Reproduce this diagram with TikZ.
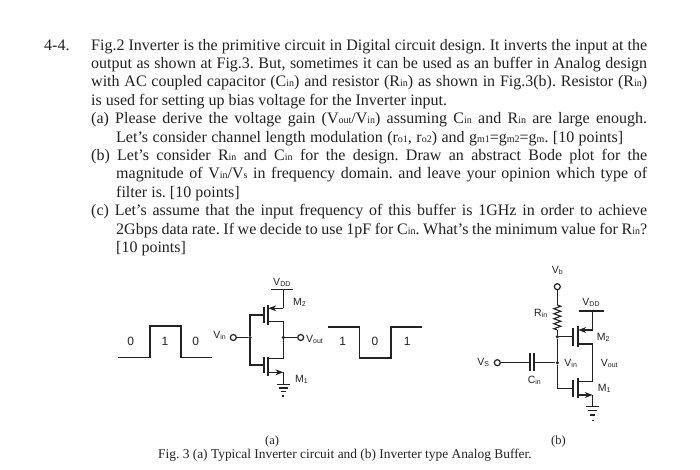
\documentclass[tikz,border=0pt]{standalone}
\usepackage{fontspec}
\setmainfont{Liberation Serif}
\setsansfont{Liberation Sans}
\usetikzlibrary{arrows.meta}
\usetikzlibrary{decorations.pathmorphing}

\definecolor{ink}{HTML}{222222}
\newcommand{\sbs}[1]{{\fontsize{10}{10}\selectfont #1}}
\newcommand{\fitline}[2]{\makebox[#1pt][s]{#2}}
\newcommand{\ckt}[2]{{\sffamily\fontsize{10.5}{10.5}\selectfont #1\raisebox{-1pt}{\fontsize{7}{7}\selectfont #2}}}

\tikzset{
	textline/.style={anchor=base west, inner sep=0pt, text=ink, font=\fontsize{16}{18}\selectfont},
	wire/.style={draw=ink, line width=1.1pt},
	pulse/.style={draw=ink, line width=1.6pt},
	plate/.style={draw=ink, line width=1.8pt},
	term/.style={circle, draw=ink, line width=1.2pt, fill=white, inner sep=0pt, minimum size=6pt},
	junc/.style={circle, fill=ink, inner sep=0pt, minimum size=3.5pt},
	lbl/.style={inner sep=0pt, text=ink},
	bit/.style={inner sep=0pt, text=ink, font=\sffamily\fontsize{12}{12}\selectfont}
}

\begin{document}
\frenchspacing
\begin{tikzpicture}[x=1pt,y=-1pt,>=Stealth]
	\fill[white] (0,0) rectangle (700,469);
	\useasboundingbox (0,0) rectangle (700,469);

	% question text
	\node[textline] (num) at (44,50) {4-4.};
	\node[textline] (l1) at (91,50) {\fitline{556}{Fig.2 Inverter is the primitive circuit in Digital circuit design. It inverts the input at the}};
	\node[textline] (l2) at (91,68.4) {\fitline{556}{output as shown at Fig.3. But, sometimes it can be used as an buffer in Analog design}};
	\node[textline] (l3) at (91,86.8) {\fitline{556}{with AC coupled capacitor (C\sbs{in}) and resistor (R\sbs{in}) as shown in Fig.3(b). Resistor (R\sbs{in})}};
	\node[textline] (l4) at (91,105.2) {is used for setting up bias voltage for the Inverter input.};
	\node[textline] (l5) at (91,123.6) {\fitline{556}{(a) Please derive the voltage gain (V\sbs{out}/V\sbs{in}) assuming C\sbs{in} and R\sbs{in} are large enough.}};
	\node[textline] (l6) at (116,142) {\fitline{507}{Let’s consider channel length modulation (r\sbs{o1}, r\sbs{o2}) and g\sbs{m1}=g\sbs{m2}=g\sbs{m}. [10 points]}};
	\node[textline] (l7) at (91,160.4) {\fitline{556}{(b) Let’s consider R\sbs{in} and C\sbs{in} for the design. Draw an abstract Bode plot for the}};
	\node[textline] (l8) at (116,178.8) {\fitline{531}{magnitude of V\sbs{in}/V\sbs{s} in frequency domain. and leave your opinion which type of}};
	\node[textline] (l9) at (116,197.2) {filter is. [10 points]};
	\node[textline] (l10) at (91,215.6) {\fitline{556}{(c) Let’s assume that the input frequency of this buffer is 1GHz in order to achieve}};
	\node[textline] (l11) at (116,234) {\fitline{531}{2Gbps data rate. If we decide to use 1pF for C\sbs{in}. What’s the minimum value for R\sbs{in}?}};
	\node[textline] (l12) at (116,252.4) {[10 points]};

	% input and output pulses
	\draw[pulse] (118.3,357.3) -- (150,357.3) -- (150,326) -- (181,326) -- (181,357.3) -- (212.3,357.3);
	\node[bit] (i0) at (130.7,341.7) {0};
	\node[bit] (i1) at (165,341.7) {1};
	\node[bit] (i2) at (195.7,341.7) {0};
	\draw[pulse] (328.3,326.7) -- (359.3,326.7) -- (359.3,357.7) -- (390.7,357.7) -- (390.7,326.7) -- (422.3,326.7);
	\node[bit] (o0) at (342.7,341.7) {1};
	\node[bit] (o1) at (375,341.7) {0};
	\node[bit] (o2) at (407.3,341.7) {1};

	% inverter of fig (a)
	\coordinate (Avdd) at (283.3,289.3);
	\coordinate (Avss) at (283.3,384.3);
	\node[term] (Avin) at (233.3,337.5) {};
	\node[term] (Avout) at (300.7,337.5) {};
	\node[junc] (Ag) at (250,337.5) {};
	\node[junc] (Ad) at (283.3,337.5) {};
	\coordinate (Ag2) at (264,315);
	\coordinate (As2) at (283.3,308.3);
	\coordinate (Ad2) at (283.3,321.7);
	\coordinate (Ag1) at (264,365);
	\coordinate (Ad1) at (283.3,358.3);
	\coordinate (As1) at (283.3,372.3);
	\draw[wire] (Avin) -- (Ag);
	\draw[wire] (Ad) -- (Avout);
	\draw[wire] (Ag2) -| (Ag) |- (Ag1);
	\draw[wire] (Avdd) -- (As2);
	\draw[wire,->] (As2) -- (268.3,308.3);
	\draw[wire] (268.3,321.7) -- (Ad2) -- (Ad1) -- (268.3,358.3);
	\draw[wire,->] (268.3,372.3) -- (As1);
	\draw[wire] (As1) -- (Avss);
	\draw[plate] (264,306.7) -- (264,323);
	\draw[plate] (268.3,305) -- (268.3,325);
	\draw[plate] (264,357) -- (264,373);
	\draw[plate] (268.3,356.7) -- (268.3,375.7);
	\draw[pulse] (270.7,289.3) -- (292.7,289.3);
	\draw[wire] (276.8,384.3) -- (289.8,384.3);
	\draw[wire] (278.8,388) -- (287.8,388);
	\draw[wire] (280.8,391.5) -- (285.8,391.5);
	\draw[wire] (282.3,396) -- (284.3,396);
	\node[lbl] (AVdd) at (281.8,282.7) {\ckt{V}{DD}};
	\node[lbl] (AM2) at (299.5,302) {\ckt{M}{2}};
	\node[lbl] (AM1) at (301.5,379) {\ckt{M}{1}};
	\node[lbl] (AVin) at (219.5,335.5) {\ckt{V}{in}};
	\node[lbl] (AVout) at (314.5,339.5) {\ckt{V}{out}};

	% buffer of fig (b)
	\node[term] (Bvb) at (557.3,286.7) {};
	\node[term] (Bvs) at (497.3,362.7) {};
	\node[junc] (Br) at (557.3,336.7) {};
	\node[junc] (Bn) at (557.3,362.7) {};
	\coordinate (Br1) at (557.3,305);
	\coordinate (Br2) at (557.3,330);
	\coordinate (Bc1) at (530,362.7);
	\coordinate (Bc2) at (534.3,362.7);
	\coordinate (Bvdd) at (592.7,310.7);
	\coordinate (Bvss) at (592.7,406.7);
	\coordinate (Bs2) at (592.7,330);
	\coordinate (Bd2) at (592.7,344);
	\coordinate (Bd1) at (592.7,381.7);
	\coordinate (Bs1) at (592.7,395);
	\coordinate (Bg1) at (572.7,388.3);
	\draw[wire] (Bvb) -- (Br1);
	\draw[wire,decorate,decoration={zigzag,segment length=5pt,amplitude=3.5pt}] (Br1) -- (Br2);
	\draw[wire] (Br2) -- (Br) -- (Bn) |- (Bg1);
	\draw[wire] (Br) -- (572.7,336.7);
	\draw[wire] (Bvs) -- (Bc1);
	\draw[wire] (Bc2) -- (Bn);
	\draw[plate] (530,353) -- (530,370.7);
	\draw[plate] (534.3,353) -- (534.3,370.7);
	\draw[wire] (Bvdd) -- (Bs2);
	\draw[wire,->] (Bs2) -- (578.3,330);
	\draw[wire] (578.3,344) -- (Bd2) -- (Bd1) -- (578.3,381.7);
	\draw[wire,->] (578.3,395) -- (Bs1);
	\draw[wire] (Bs1) -- (Bvss);
	\draw[plate] (572.7,328) -- (572.7,345.5);
	\draw[plate] (578.3,326) -- (578.3,347.3);
	\draw[plate] (572.7,380) -- (572.7,397);
	\draw[plate] (578.3,378.3) -- (578.3,398.3);
	\draw[pulse] (579.3,310.7) -- (604,310.7);
	\draw[wire] (586.2,406.7) -- (599.2,406.7);
	\draw[wire] (588.2,410.7) -- (597.2,410.7);
	\draw[wire] (590.2,415) -- (595.2,415);
	\draw[wire] (591.7,420.7) -- (593.7,420.7);
	\node[lbl] (BVb) at (557.3,270.7) {\ckt{V}{b}};
	\node[lbl] (BVdd) at (591,302) {\ckt{V}{DD}};
	\node[lbl] (BRin) at (540.7,313) {\ckt{R}{in}};
	\node[lbl] (BVs) at (483.3,362) {\ckt{V}{S}};
	\node[lbl] (BCin) at (534.3,380.7) {\ckt{C}{in}};
	\node[lbl] (BVin) at (570.7,363) {\ckt{V}{in}};
	\node[lbl] (BVout) at (609.3,363) {\ckt{V}{out}};
	\node[lbl] (BM2) at (603.3,337.3) {\ckt{M}{2}};
	\node[lbl] (BM1) at (604.3,388.3) {\ckt{M}{1}};

	% captions
	\node[textline,font=\fontsize{12.5}{14}\selectfont] (capa) at (265,444) {(a)};
	\node[textline,font=\fontsize{12.5}{14}\selectfont] (capb) at (551,444) {(b)};
	\node[textline,font=\fontsize{13.4}{15}\selectfont] (cap) at (158,458) {Fig. 3 (a) Typical Inverter circuit and (b) Inverter type Analog Buffer.};
\end{tikzpicture}
\end{document}
